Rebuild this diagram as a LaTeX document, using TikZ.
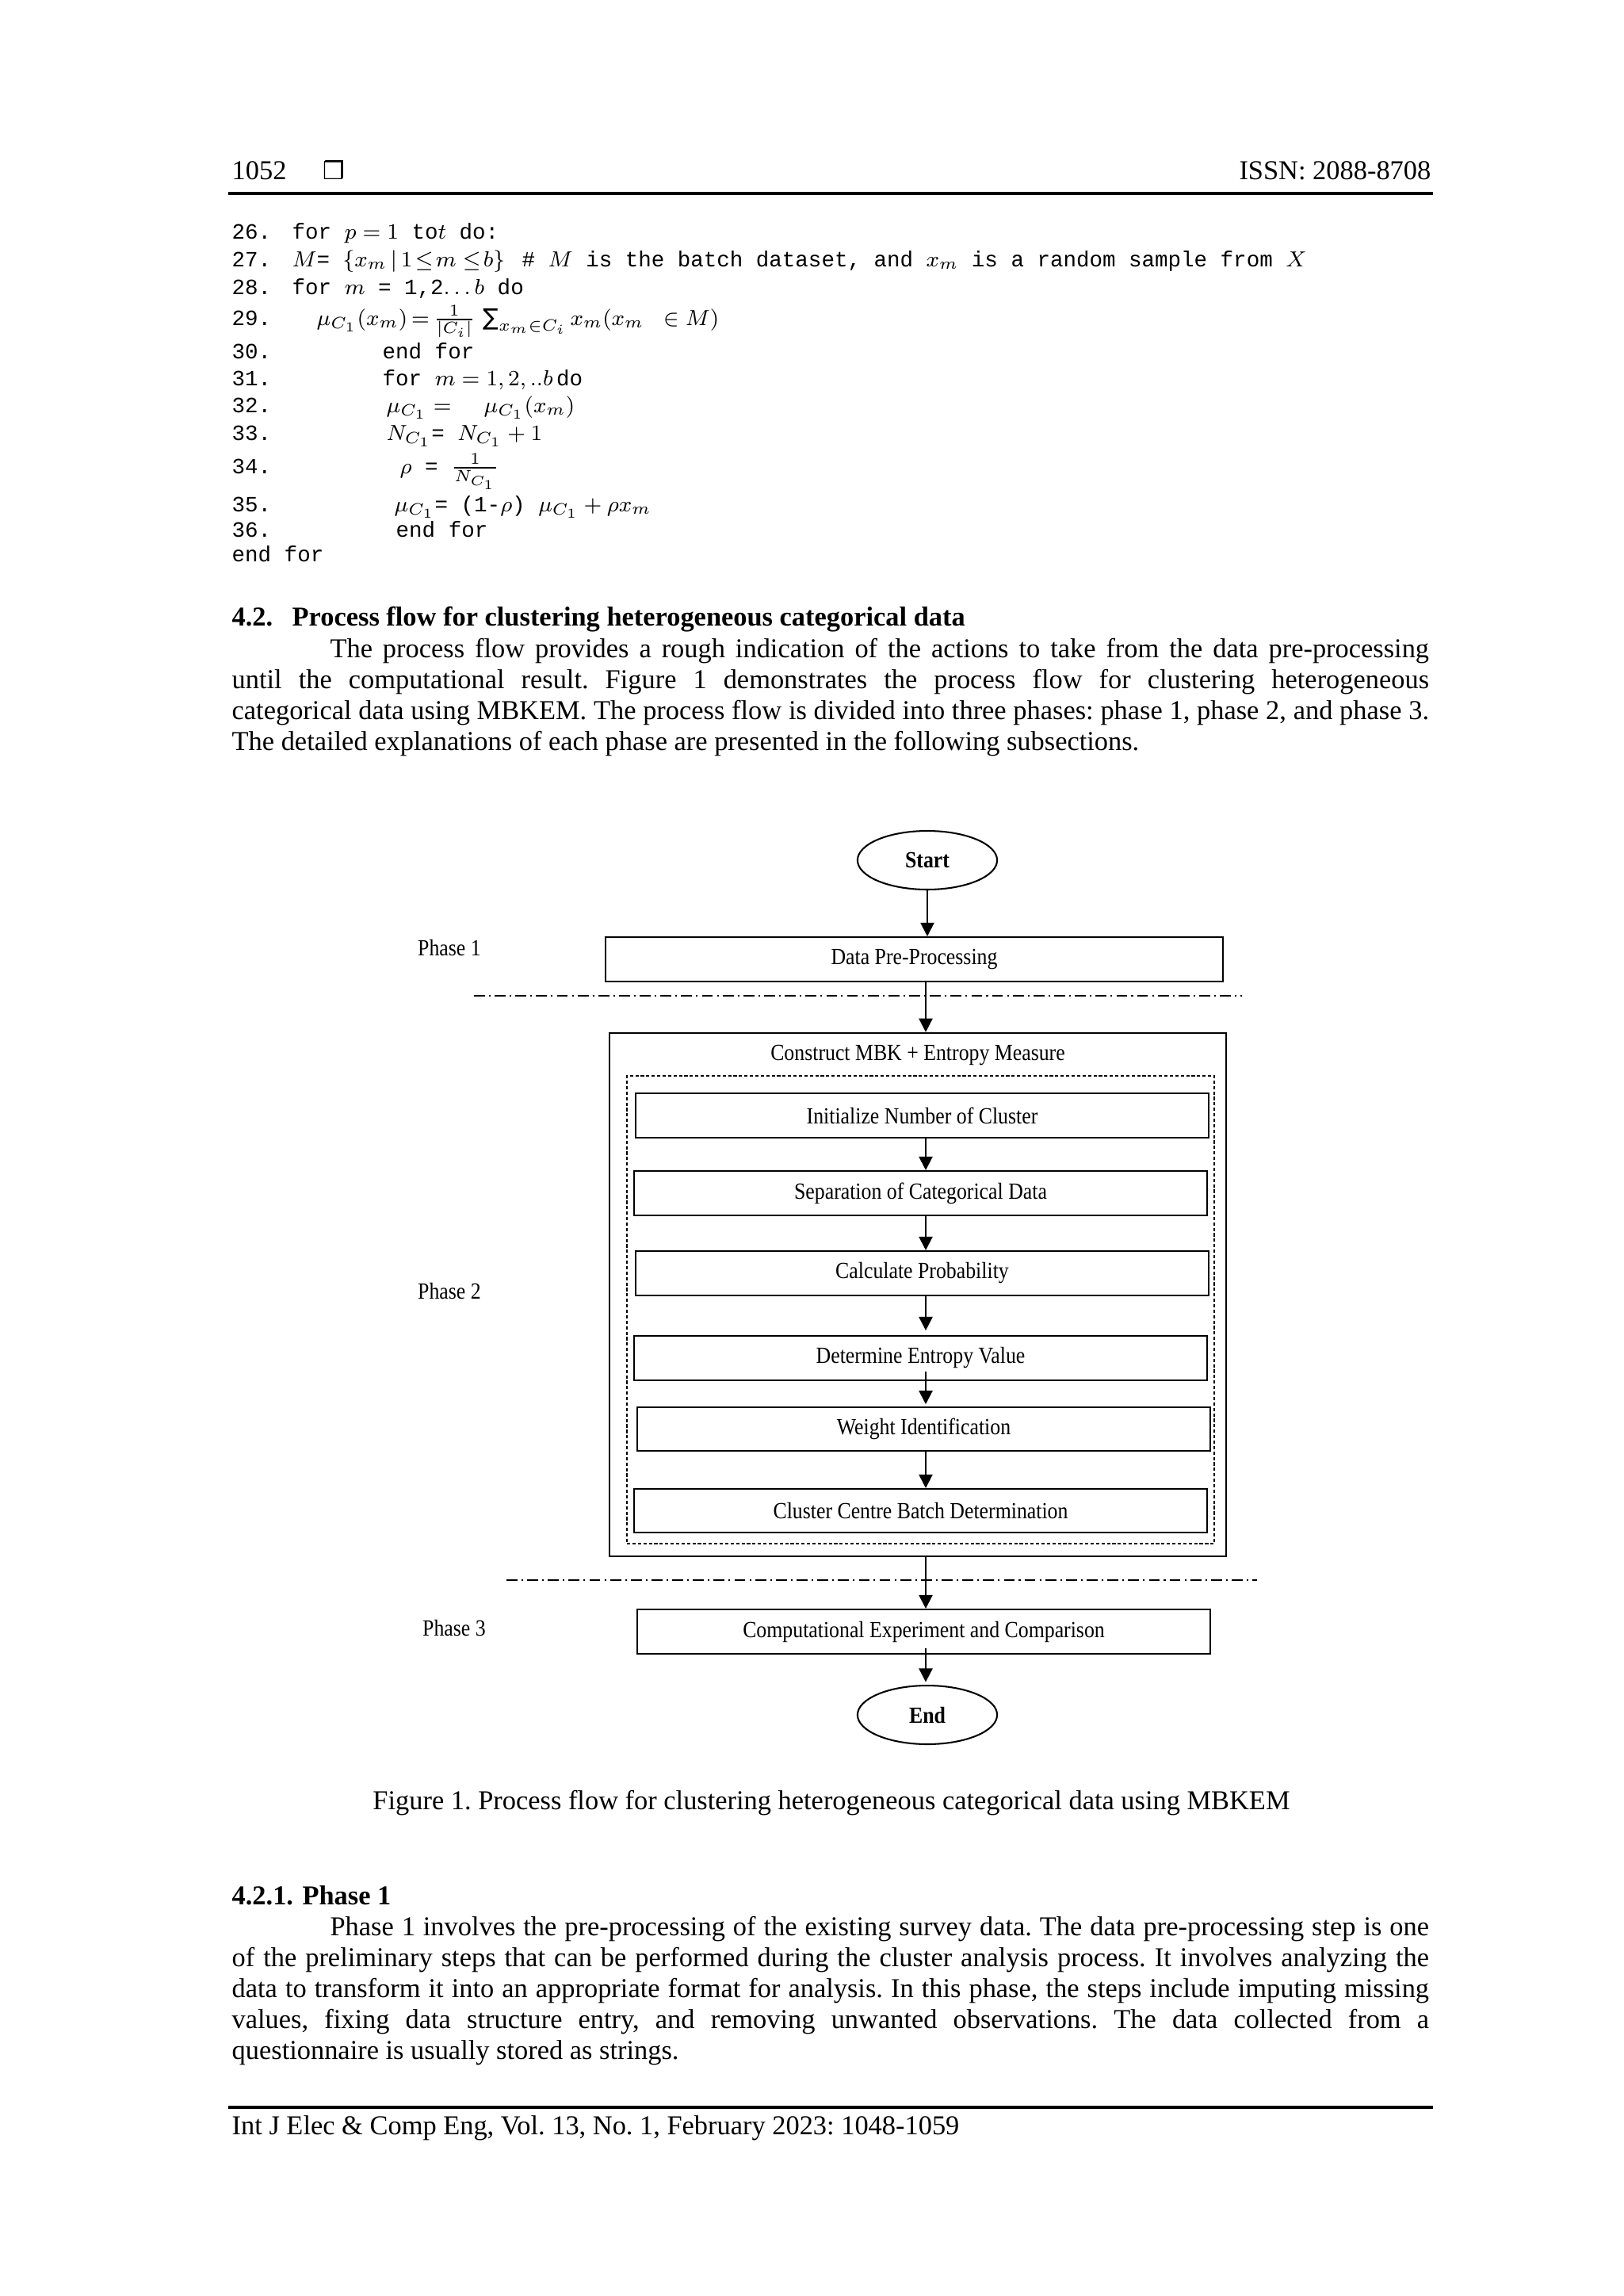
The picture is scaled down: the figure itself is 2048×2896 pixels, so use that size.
\documentclass[tikz,border=0pt]{standalone}
\usepackage{graphicx}
\usepackage{fontspec}
\setmainfont{Liberation Serif}
\setmonofont{Liberation Mono}
\newfontfamily\dejavu{DejaVu Sans}
\usetikzlibrary{shapes.geometric,arrows.meta}
\newcommand\figtxt[1]{\scalebox{1}[1.13]{#1}}
\newcommand\nsum{\mathop{\mbox{\dejavu\fontsize{8.5}{9}\selectfont ∑}}\nolimits}
\begin{document}
\begin{tikzpicture}[x=0.29066pt,y=-0.29066pt,
  body/.style={anchor=base west, inner sep=0pt, font=\fontsize{10}{11.4}\selectfont\frenchspacing},
  bodyb/.style={body, font=\fontsize{10}{11.4}\selectfont\bfseries},
  para/.style={body, text width=439pt, align=justify},
  code/.style={anchor=base west, inner sep=0pt, font=\fontsize{8}{10}\ttfamily},
  pbox/.style n args={4}{minimum width={(#3-#1)*0.29066pt}, minimum height={(#4-#2)*0.29066pt}, at={({(#1+#3)/2},{(#2+#4)/2})}},
  box/.style={draw, line width=0.6pt, inner sep=0pt, font=\fontsize{7.5}{9}\selectfont},
  term/.style={ellipse, draw, line width=0.6pt, minimum width=51.2pt, minimum height=21.5pt, inner sep=0pt, font=\fontsize{7.5}{9}\selectfont\bfseries},
  lbl/.style={inner sep=0pt, anchor=base, font=\fontsize{7.5}{9}\selectfont},
  arr/.style={-{Triangle[length=5pt,width=5pt]}, line width=0.6pt},
  phaseline/.style={line width=0.5pt, dash pattern=on 4pt off 1.5pt on 0.6pt off 1.5pt},
  dbox/.style={draw, line width=0.4pt, dash pattern=on 1.2pt off 0.8pt, inner sep=0pt}
]
\fill[white] (0,0) rectangle (2048,2896);
\useasboundingbox (0,0) rectangle (2048,2896);

% header
\node[body] (pg) at (292,226) {1052};
\node[anchor=base west, inner sep=0pt, font=\dejavu\fontsize{9}{10}\selectfont] (sq) at (407,226) {❒};
\node[body, anchor=base east] (issn) at (1806,226) {ISSN: 2088-8708};
\coordinate (hl) at (288,244);
\coordinate (hr) at (1808,244);
\draw[line width=1pt] (hl) -- (hr);

% algorithm lines
\node[code] (n26) at (292,301) {26.};
\node[code] (c26) at (368,301) {for $p=1$ to$t$ do:};
\node[code] (n27) at (292,336) {27.};
\node[code] (c27a) at (368,336) {$M$= $\{x_m\,|\,1\!\le\! m \le\! b\}$};
\node[code] (c27b) at (658,336) {\# $M$ is the batch dataset, and $x_m$ is a random sample from $X$};
\node[code] (n28) at (292,371) {28.};
\node[code] (c28) at (368,371) {for $m$ = 1,2$\ldots b$ do};
\node[code] (n29) at (292,410) {29.};
\node[code] (c29a) at (399,410) {$\mu_{C_1}(x_m)\,{=}\,\frac{1}{|C_i|}$};
\node[code, anchor=base west] (c29b) at ([xshift=2.5pt]c29a.base east) {$\nsum_{x_m\in C_i} x_m(x_m\ \in M)$};
\node[code] (n30) at (292,452) {30.};
\node[code] (c30) at (482,452) {end for};
\node[code] (n31) at (292,486) {31.};
\node[code] (c31) at (482,486) {for $m=1,2,..b$\,do};
\node[code] (n32) at (292,520) {32.};
\node[code] (c32) at (487,520) {$\mu_{C_1} =\ \ \mu_{C_1}(x_m)$};
\node[code] (n33) at (292,555) {33.};
\node[code] (c33) at (487,555) {$N_{C_1}$= $N_{C_1}+1$};
\node[code] (n34) at (292,597) {34.};
\node[code] (c34) at (504,597) {$\rho$ = $\frac{1}{N_{C_1}}$};
\node[code] (n35) at (292,645) {35.};
\node[code] (c35) at (497,645) {$\mu_{C_1}$= (1-$\rho$) $\mu_{C_1}+\rho x_m$};
\node[code] (n36) at (292,677) {36.};
\node[code] (c36) at (499,677) {end for};
\node[code] (cend) at (292,708) {end for};

% section 4.2
\node[bodyb] (h42n) at (292,789) {4.2.};
\node[bodyb] (h42) at (368,789) {Process flow for clustering heterogeneous categorical data};
\node[para] (p1) at (292,829) {\hspace*{36pt}The process flow provides a rough indication of the actions to take from the data pre-processing\linebreak
until the computational result. Figure 1 demonstrates the process flow for clustering heterogeneous\linebreak
categorical data using MBKEM. The process flow is divided into three phases: phase 1, phase 2, and phase 3.\linebreak
The detailed explanations of each phase are presented in the following subsections.};

% figure
\node[term] (start) at (1170,1085) {\figtxt{Start}};
\node[box, pbox={764}{1182}{1543}{1238}] (dp) {\figtxt{Data Pre-Processing}};
\node[lbl] (ph1) at (567,1205) {\figtxt{Phase 1}};
\draw[phaseline] (598,1256) -- (1567,1256);

\node[draw, line width=0.7pt, inner sep=0pt, pbox={769}{1303}{1547}{1963}] (mbk) {};
\node[lbl] (mbkt) at (1158,1337) {\figtxt{Construct MBK + Entropy Measure}};
\node[dbox, pbox={791}{1357}{1532}{1947}] (dash) {};
\node[box, pbox={802}{1379}{1525}{1435}] (init) {\figtxt{Initialize Number of Cluster}};
\node[box, pbox={800}{1477}{1523}{1533}] (sep) {\figtxt{Separation of Categorical Data}};
\node[box, pbox={802}{1578}{1525}{1634}] (calc) {\figtxt{Calculate Probability}};
\node[box, pbox={800}{1685}{1523}{1741}] (det) {\figtxt{Determine Entropy Value}};
\node[box, pbox={804}{1775}{1527}{1830}] (wgt) {\figtxt{Weight Identification}};
\node[box, pbox={800}{1878}{1523}{1933}] (ccb) {\figtxt{Cluster Centre Batch Determination}};
\node[lbl] (ph2) at (567,1638) {\figtxt{Phase 2}};

\draw[phaseline] (639,1993) -- (1586,1993);
\node[box, pbox={804}{2030}{1527}{2086}] (cmp) {\figtxt{Computational Experiment and Comparison}};
\node[lbl] (ph3) at (573,2063) {\figtxt{Phase 3}};
\node[term] (end) at (1170,2163) {\figtxt{End}};

\coordinate (ax) at (1168,0);
\draw[arr] (start.south) -- (start.south |- dp.north);
\draw[arr] (dp.south -| ax) -- (mbk.north -| ax);
\draw[arr] (init.south -| ax) -- (sep.north -| ax);
\draw[arr] (sep.south -| ax) -- (calc.north -| ax);
\draw[arr, shorten >=1.7pt] (calc.south -| ax) -- (det.north -| ax);
\draw[arr, shorten <=-3.5pt, shorten >=0.8pt] (det.south -| ax) -- (wgt.north -| ax);
\draw[arr] (wgt.south -| ax) -- (ccb.north -| ax);
\draw[arr] (mbk.south -| ax) -- (cmp.north -| ax);
\draw[arr, shorten <=-2.3pt, shorten >=1pt] (cmp.south -| ax) -- (end.north -| ax);

% caption
\node[body, anchor=base] (cap) at (1049,2282) {Figure 1. Process flow for clustering heterogeneous categorical data using MBKEM};

% section 4.2.1
\node[bodyb] (h421) at (292,2402) {4.2.1. Phase 1};
\node[para] (p2) at (292,2441) {\hspace*{36pt}Phase 1 involves the pre-processing of the existing survey data. The data pre-processing step is one\linebreak
of the preliminary steps that can be performed during the cluster analysis process. It involves analyzing the\linebreak
data to transform it into an appropriate format for analysis. In this phase, the steps include imputing missing\linebreak
values, fixing data structure entry, and removing unwanted observations. The data collected from a\linebreak
questionnaire is usually stored as strings.};

% footer
\coordinate (fl) at (288,2658);
\coordinate (fr) at (1808,2658);
\draw[line width=1pt] (fl) -- (fr);
\node[body] (foot) at (292,2692) {Int J Elec \& Comp Eng, Vol. 13, No. 1, February 2023: 1048-1059};
\end{tikzpicture}
\end{document}
